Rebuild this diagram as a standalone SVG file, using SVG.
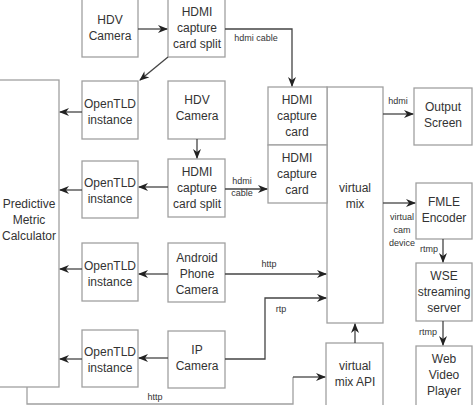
<svg xmlns="http://www.w3.org/2000/svg" width="474" height="405" viewBox="0 0 474 405">
<defs>
<style>
.b{fill:#fff;stroke:#a0a0a0;stroke-width:1.3}
.t{font-family:"Liberation Sans",Arial,sans-serif;font-size:12px;fill:#333;text-anchor:middle}
.l{font-family:"Liberation Sans",Arial,sans-serif;font-size:9px;fill:#333;text-anchor:middle}
.c{fill:none;stroke:#444;stroke-width:1.3}
.g{fill:none;stroke:#a0a0a0;stroke-width:1.3}
</style>
<marker id="a" markerWidth="10" markerHeight="8" refX="9" refY="4" orient="auto" markerUnits="userSpaceOnUse">
<path d="M0,0 L10,4 L0,8 L3,4 Z" fill="#222"/>
</marker>
</defs>
<rect width="474" height="405" fill="#fff"/>
<g id="pmc"><rect class="b" x="-2" y="80" width="61" height="307"/><text class="t" x="29" y="208">Predictive</text><text class="t" x="29" y="224">Metric</text><text class="t" x="29" y="240">Calculator</text></g>
<g id="hdv1"><rect class="b" x="82" y="-1" width="56" height="58"/><text class="t" x="110" y="24">HDV</text><text class="t" x="110" y="40">Camera</text></g>
<g id="split1"><rect class="b" x="168" y="-1" width="57" height="58"/><text class="t" x="197" y="16">HDMI</text><text class="t" x="197" y="32">capture</text><text class="t" x="197" y="48">card split</text></g>
<g id="otld1"><rect class="b" x="82" y="81" width="56" height="58"/><text class="t" x="110" y="108">OpenTLD</text><text class="t" x="110" y="124">instance</text></g>
<g id="hdv2"><rect class="b" x="168" y="81" width="57" height="58"/><text class="t" x="197" y="104">HDV</text><text class="t" x="197" y="120">Camera</text></g>
<g id="otld2"><rect class="b" x="82" y="161" width="56" height="57"/><text class="t" x="110" y="187">OpenTLD</text><text class="t" x="110" y="203">instance</text></g>
<g id="split2"><rect class="b" x="168" y="159" width="57" height="58"/><text class="t" x="197" y="176">HDMI</text><text class="t" x="197" y="192">capture</text><text class="t" x="197" y="208">card split</text></g>
<g id="otld3"><rect class="b" x="82" y="243" width="56" height="58"/><text class="t" x="110" y="270">OpenTLD</text><text class="t" x="110" y="286">instance</text></g>
<g id="android"><rect class="b" x="168" y="243" width="57" height="59"/><text class="t" x="197" y="262">Android</text><text class="t" x="197" y="278">Phone</text><text class="t" x="197" y="294">Camera</text></g>
<g id="otld4"><rect class="b" x="82" y="330" width="56" height="57"/><text class="t" x="110" y="356">OpenTLD</text><text class="t" x="110" y="372">instance</text></g>
<g id="ipcam"><rect class="b" x="168" y="331" width="57" height="57"/><text class="t" x="197" y="354">IP</text><text class="t" x="197" y="370">Camera</text></g>
<g id="vmix"><rect class="b" x="327" y="87" width="56" height="236"/><text class="t" x="355" y="192">virtual</text><text class="t" x="355" y="208">mix</text></g>
<g id="hcc1"><rect class="b" x="268" y="87" width="59" height="58"/><text class="t" x="297" y="104">HDMI</text><text class="t" x="297" y="120">capture</text><text class="t" x="297" y="136">card</text></g>
<g id="hcc2"><rect class="b" x="268" y="145" width="59" height="58"/><text class="t" x="297" y="162">HDMI</text><text class="t" x="297" y="178">capture</text><text class="t" x="297" y="194">card</text></g>
<g id="vmixapi"><rect class="b" x="326" y="343" width="57" height="64"/><text class="t" x="355" y="370">virtual</text><text class="t" x="355" y="386">mix API</text></g>
<g id="output"><rect class="b" x="414" y="88" width="58" height="57"/><text class="t" x="443" y="111">Output</text><text class="t" x="443" y="127">Screen</text></g>
<g id="fmle"><rect class="b" x="416" y="183" width="56" height="56"/><text class="t" x="444" y="206">FMLE</text><text class="t" x="444" y="222">Encoder</text></g>
<g id="wse"><rect class="b" x="416" y="263" width="56" height="58"/><text class="t" x="444" y="280">WSE</text><text class="t" x="444" y="296">streaming</text><text class="t" x="444" y="312">server</text></g>
<g id="web"><rect class="b" x="416" y="346" width="56" height="62"/><text class="t" x="444" y="363">Web</text><text class="t" x="444" y="379">Video</text><text class="t" x="444" y="395">Player</text></g>
<g id="connectors">
<path class="c" d="M138,29 H167" marker-end="url(#a)"/>
<path class="c" d="M168,57 L140,80" marker-end="url(#a)"/>
<path class="c" d="M82,112 H60" marker-end="url(#a)"/>
<path class="c" d="M225,29 H292 V86" marker-end="url(#a)"/>
<path class="c" d="M197,139 V158" marker-end="url(#a)"/>
<path class="c" d="M168,187 H139" marker-end="url(#a)"/>
<path class="c" d="M82,190 H60" marker-end="url(#a)"/>
<path class="c" d="M225,189 H267" marker-end="url(#a)"/>
<path class="c" d="M383,114 H413" marker-end="url(#a)"/>
<path class="c" d="M383,203 H415" marker-end="url(#a)"/>
<path class="c" d="M443,239 V262" marker-end="url(#a)"/>
<path class="c" d="M443,321 V345" marker-end="url(#a)"/>
<path class="c" d="M168,274 H139" marker-end="url(#a)"/>
<path class="c" d="M82,269 H60" marker-end="url(#a)"/>
<path class="c" d="M225,274 H326" marker-end="url(#a)"/>
<path class="c" d="M168,358 H139" marker-end="url(#a)"/>
<path class="c" d="M82,359 H60" marker-end="url(#a)"/>
<path class="c" d="M225,359 H265 V298 H326" marker-end="url(#a)"/>
<path class="c" d="M355,343 V324" marker-end="url(#a)"/>
<path class="g" d="M27,387 V404 H293 V377"/>
<path class="c" d="M293,377 H325" marker-end="url(#a)"/>
<text class="l" x="256" y="41">hdmi cable</text>
<text class="l" x="242" y="184">hdmi</text>
<text class="l" x="242" y="196">cable</text>
<text class="l" x="398" y="104">hdmi</text>
<text class="l" x="402" y="220">virtual</text>
<text class="l" x="402" y="233">cam</text>
<text class="l" x="402" y="246">device</text>
<text class="l" x="429" y="252">rtmp</text>
<text class="l" x="428" y="335">rtmp</text>
<text class="l" x="269" y="267">http</text>
<text class="l" x="281" y="312">rtp</text>
<text class="l" x="155" y="400">http</text>
</g>
</svg>
